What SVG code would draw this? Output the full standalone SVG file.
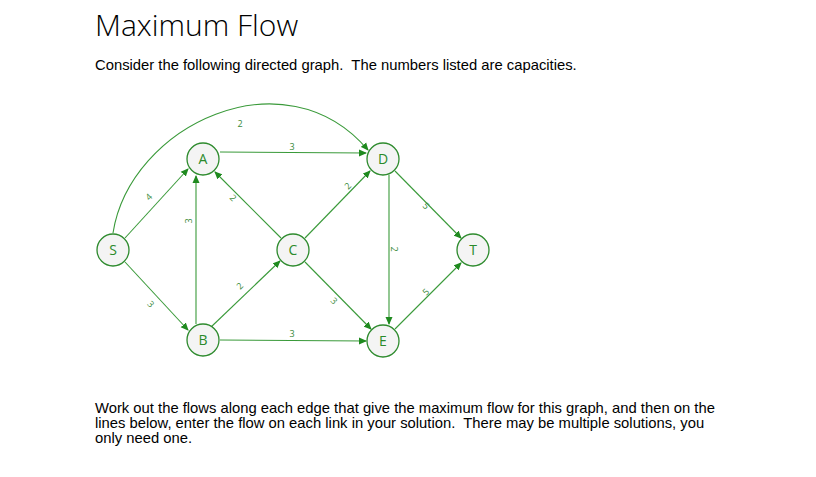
<svg xmlns="http://www.w3.org/2000/svg" width="816" height="477" viewBox="0 0 816 477">
<style>
.n{fill:#f4f4f4;stroke:#2e8b2e;stroke-width:1.3}
.nl{font-family:"Open Sans",sans-serif;font-size:14px;fill:#2a8a2a;text-anchor:middle}
.e{stroke:#3a9a3a;stroke-width:1.1;fill:none;marker-end:url(#ar)}
.el{font-family:"Open Sans",sans-serif;font-size:9px;fill:#3a8a3a;text-anchor:middle}
.t{font-family:"Liberation Sans",Arial,sans-serif;font-size:14.8px;fill:#000}
</style>
<defs>
<marker id="ar" markerWidth="8" markerHeight="8" refX="7" refY="4" orient="auto" markerUnits="userSpaceOnUse">
<path d="M0,0.5 L8,4 L0,7.5 z" fill="#1f8a1f"/>
</marker>
</defs>
<rect width="816" height="477" fill="#fff"/>
<text x="95" y="36" font-family="Open Sans, sans-serif" font-size="30" font-weight="300" fill="#000">Maximum Flow</text>
<text class="t" x="95" y="70" xml:space="preserve">Consider the following directed graph.  The numbers listed are capacities.</text>
<g id="connectors">
<path class="e" d="M113,233 C130,125 285,52 368,150"/>
<line class="e" x1="125" y1="238" x2="188" y2="169"/>
<line class="e" x1="125" y1="262" x2="188" y2="330"/>
<line class="e" x1="220" y1="152" x2="366" y2="153"/>
<line class="e" x1="196" y1="324" x2="196" y2="176"/>
<line class="e" x1="281" y1="238" x2="215" y2="172"/>
<line class="e" x1="210" y1="328" x2="280" y2="261"/>
<line class="e" x1="305" y1="238" x2="370" y2="171"/>
<line class="e" x1="305" y1="262" x2="371" y2="329"/>
<line class="e" x1="220" y1="340" x2="366" y2="341"/>
<line class="e" x1="389" y1="175" x2="389" y2="324"/>
<line class="e" x1="395" y1="171" x2="461" y2="238"/>
<line class="e" x1="395" y1="329" x2="461" y2="263"/>
<text class="el" x="240" y="127">2</text>
<text class="el" x="149" y="200" transform="rotate(-45 149 197)">4</text>
<text class="el" x="150" y="307" transform="rotate(45 150 305)">3</text>
<text class="el" x="292" y="150">3</text>
<text class="el" x="189" y="224" transform="rotate(-90 189 221)">3</text>
<text class="el" x="233" y="201" transform="rotate(45 233 198)">2</text>
<text class="el" x="240" y="289" transform="rotate(-45 240 286)">2</text>
<text class="el" x="348" y="189" transform="rotate(-45 348 186)">2</text>
<text class="el" x="334" y="304" transform="rotate(45 334 301)">3</text>
<text class="el" x="292" y="337">3</text>
<text class="el" x="394" y="252" transform="rotate(90 394 249)">2</text>
<text class="el" x="426" y="209" transform="rotate(45 426 206)">5</text>
<text class="el" x="426" y="295" transform="rotate(-45 426 292)">5</text>
</g>
<g id="S"><circle class="n" cx="113" cy="250" r="16" stroke-width="2"/><text class="nl" x="113" y="255">S</text></g>
<g id="A"><circle class="n" cx="203" cy="159" r="16"/><text class="nl" x="203" y="164">A</text></g>
<g id="D"><circle class="n" cx="383" cy="159" r="16"/><text class="nl" x="383" y="164">D</text></g>
<g id="C"><circle class="n" cx="293" cy="250" r="16"/><text class="nl" x="293" y="255">C</text></g>
<g id="T"><circle class="n" cx="473" cy="250" r="16" stroke-width="2"/><text class="nl" x="473" y="255">T</text></g>
<g id="B"><circle class="n" cx="203" cy="340" r="16"/><text class="nl" x="203" y="345">B</text></g>
<g id="E"><circle class="n" cx="383" cy="341" r="16"/><text class="nl" x="383" y="346">E</text></g>
<text class="t" x="95" y="413">Work out the flows along each edge that give the maximum flow for this graph, and then on the</text>
<text class="t" x="95" y="428" xml:space="preserve">lines below, enter the flow on each link in your solution.  There may be multiple solutions, you</text>
<text class="t" x="95" y="443">only need one.</text>
</svg>
